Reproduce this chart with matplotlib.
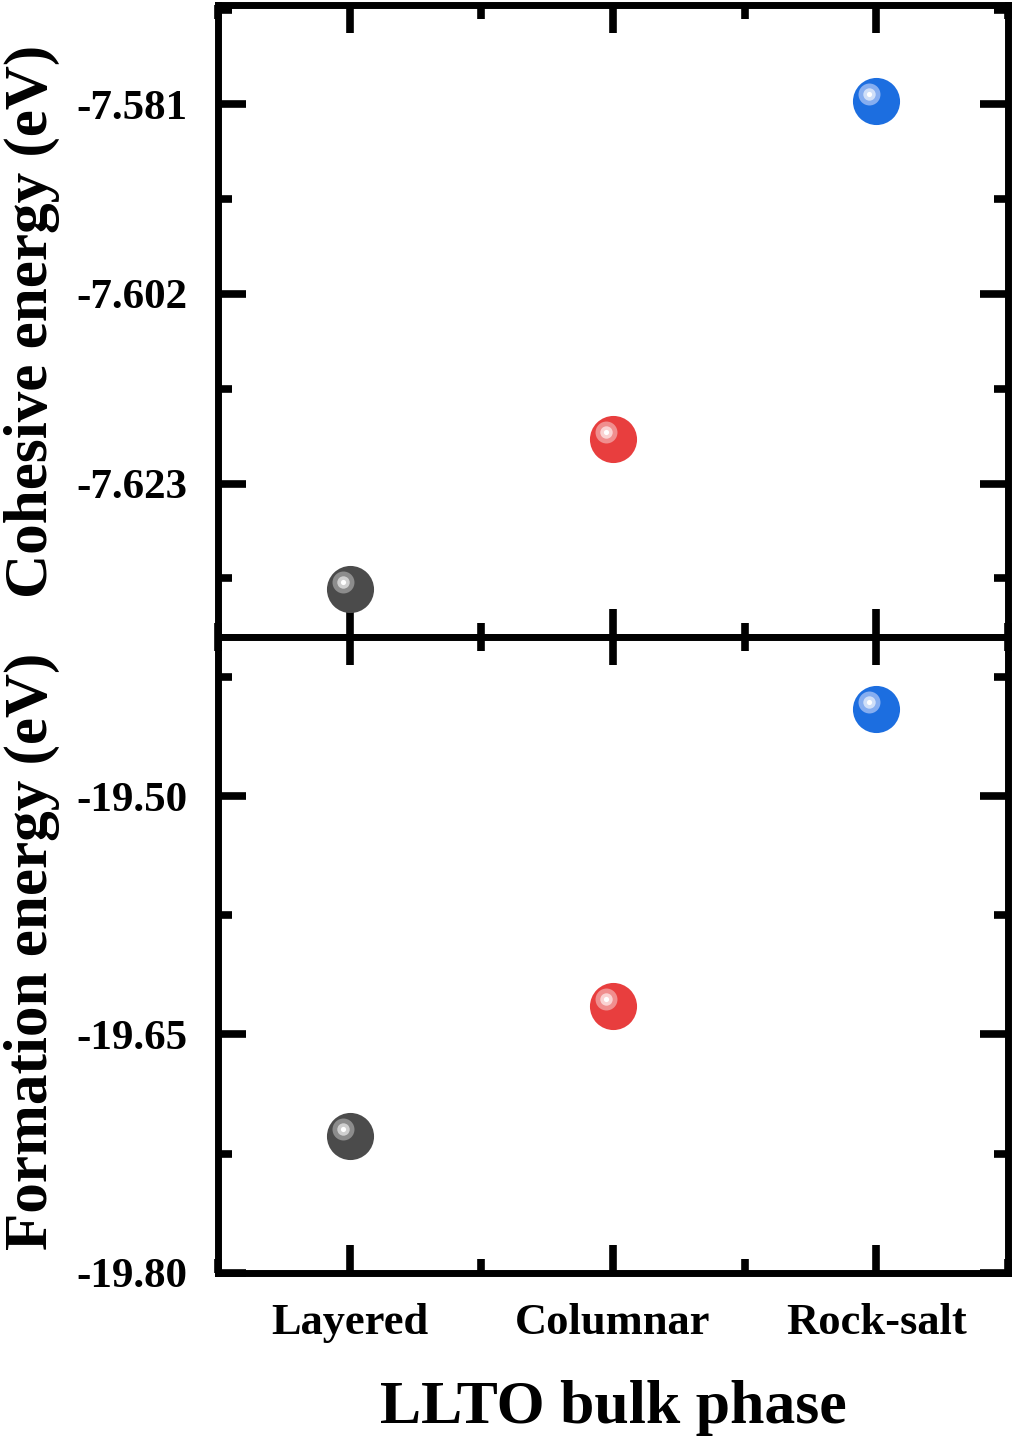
import matplotlib
matplotlib.use('Agg')
from matplotlib import pyplot as plt
from matplotlib.ticker import FixedLocator, MultipleLocator

# phases on the shared x axis
phases = ['Layered', 'Columnar', 'Rock-salt']
phase_pos = [1, 2, 3]

# energies (eV)
cohesive_energy = [-7.6347, -7.6181, -7.5806]
formation_energy = [-19.714, -19.632, -19.445]

cohesive_ticks = [-7.623, -7.602, -7.581]
formation_ticks = [-19.80, -19.65, -19.50]

sphere_colors = ['#4b4b4b', '#e83e3e', '#1c6ee0']
shine_colors = ['#8c8c8c', '#f08e8e', '#86aef0']
glow_colors = ['#cfcfcf', '#fad2d2', '#cfdff8']

plt.rcParams['font.family'] = ['Liberation Serif', 'DejaVu Serif']
plt.rcParams['font.weight'] = 'bold'

fig = plt.figure(figsize=(10.18, 14.39), dpi=100)
ax1 = fig.add_axes([0.2141, 0.5573, 0.7761, 0.4392])
ax2 = fig.add_axes([0.2141, 0.1154, 0.7761, 0.4419])


def draw_spheres(ax, values):
    # shaded ball: body, soft highlight, bright spot
    for x, y, c in zip(phase_pos, values, sphere_colors):
        ax.scatter([x], [y], s=1150, color=c, zorder=3, linewidths=0)
    tr = ax.transData
    for x, y, s, g in zip(phase_pos, values, shine_colors, glow_colors):
        px, py = tr.transform((x, y))
        hx, hy = tr.inverted().transform((px - 7, py + 7))
        ax.scatter([hx], [hy], s=250, color=s, zorder=4, linewidths=0)
        ax.scatter([hx], [hy], s=80, color=g, zorder=5, linewidths=0)
        ax.scatter([hx], [hy], s=14, color='white', zorder=6, linewidths=0)


def style_axis(ax):
    ax.set_xlim(0.5, 3.5)
    ax.xaxis.set_major_locator(FixedLocator(phase_pos))
    ax.xaxis.set_minor_locator(MultipleLocator(0.5))
    for sp in ax.spines.values():
        sp.set_linewidth(5)
    ax.tick_params(which='both', direction='in', top=True, right=True,
                   width=5.5, labelsize=31, pad=22)
    ax.tick_params(which='major', length=20)
    ax.tick_params(which='minor', length=10)


ax1.set_ylim(-7.64, -7.57)
ax1.yaxis.set_major_locator(FixedLocator(cohesive_ticks))
ax1.yaxis.set_minor_locator(MultipleLocator(0.0105))
ax1.set_yticklabels([f'{v:.3f}' for v in cohesive_ticks])
style_axis(ax1)
ax1.tick_params(labelbottom=False)
ax1.set_ylabel('Cohesive energy (eV)', fontsize=44, fontweight='bold')
ax1.yaxis.set_label_coords(-0.2, 0.5)
draw_spheres(ax1, cohesive_energy)

ax2.set_ylim(-19.80, -19.40)
ax2.yaxis.set_major_locator(FixedLocator(formation_ticks))
ax2.yaxis.set_minor_locator(MultipleLocator(0.075))
ax2.set_yticklabels([f'{v:.2f}' for v in formation_ticks])
style_axis(ax2)
ax2.set_xticklabels(phases, fontsize=32)
ax2.tick_params(axis='x', pad=22)
ax2.set_ylabel('Formation energy (eV)', fontsize=44, fontweight='bold')
ax2.yaxis.set_label_coords(-0.2, 0.505)
ax2.set_xlabel('LLTO bulk phase', fontsize=44.5, fontweight='bold', labelpad=26)
draw_spheres(ax2, formation_energy)

fig.savefig('out.png', dpi=100, facecolor='white')
